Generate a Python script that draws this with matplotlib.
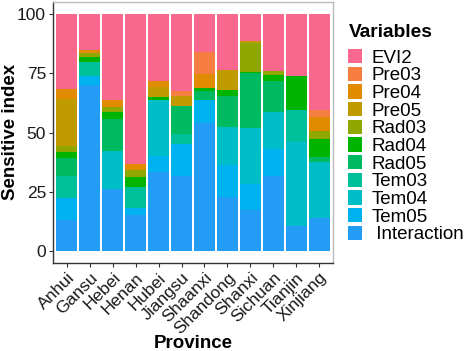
import numpy as np
import matplotlib.pyplot as plt
from matplotlib.patches import Patch

plt.rcParams['font.family'] = ['Liberation Sans', 'DejaVu Sans']

# ---- data (percent of sensitive index per province) ----
provinces = ["Anhui", "Gansu", "Hebei", "Henan", "Hubei", "Jiangsu", "Shaanxi",
             "Shandong", "Shanxi", "Sichuan", "Tianjin", "Xinjiang"]

interaction = [13.2, 70.2, 26.3, 15.3, 33.3, 31.6, 53.9, 22.8, 17.4, 31.5, 10.8, 14.0]
tem05 = [9.1, 3.8, 0.0, 2.8, 7.0, 13.6, 9.9, 13.3, 11.0, 11.6, 0.0, 0.0]
tem04 = [0.0, 0.0, 16.1, 0.0, 23.2, 0.0, 0.0, 16.4, 23.6, 15.5, 35.1, 23.5]
tem03 = [9.3, 5.6, 0.0, 9.1, 0.0, 4.0, 0.0, 0.0, 0.0, 0.0, 13.7, 0.0]
rad05 = [7.7, 0.0, 13.4, 0.0, 0.0, 11.8, 3.9, 12.7, 23.0, 13.0, 0.0, 2.1]
rad04 = [2.4, 2.1, 2.8, 4.0, 1.4, 0.0, 1.1, 2.8, 0.7, 2.8, 14.4, 7.7]
rad03 = [2.4, 1.7, 2.1, 3.1, 0.0, 0.0, 0.0, 0.0, 12.1, 1.7, 0.0, 3.5]
pre05 = [20.1, 0.0, 0.0, 0.0, 4.2, 4.2, 0.0, 8.4, 0.7, 0.0, 0.0, 0.0]
pre04 = [4.2, 1.4, 2.8, 2.5, 2.8, 0.0, 5.9, 0.0, 0.0, 0.0, 0.0, 5.7]
pre03 = [0.0, 0.0, 0.0, 0.0, 0.0, 2.2, 9.1, 0.0, 0.0, 0.0, 0.0, 2.8]
evi2 = [31.6, 15.2, 36.5, 63.2, 28.1, 32.6, 16.2, 23.6, 11.5, 23.9, 26.0, 40.7]

# stacking order, bottom -> top
series = [
    (" Interaction", interaction, "#229CF5"),
    ("Tem05", tem05, "#00B3F0"),
    ("Tem04", tem04, "#00BEC8"),
    ("Tem03", tem03, "#00C09C"),
    ("Rad05", rad05, "#00BA62"),
    ("Rad04", rad04, "#00B400"),
    ("Rad03", rad03, "#8FA700"),
    ("Pre05", pre05, "#BF9B00"),
    ("Pre04", pre04, "#E08B00"),
    ("Pre03", pre03, "#F57E40"),
    ("EVI2", evi2, "#F8678D"),
]

W, H = 474, 351
fig = plt.figure(figsize=(W / 100, H / 100), dpi=100)
ax = fig.add_axes([53 / W, 1 - 263 / H, 280 / W, 261 / H])

x = np.arange(len(provinces))
bottom = np.zeros(len(provinces))
for name, vals, col in series:
    vals = np.array(vals)
    ax.bar(x, vals, width=0.9, bottom=bottom, color=col, linewidth=0)
    bottom += vals

ax.set_xlim(-0.6, len(provinces) - 0.4)
ax.set_ylim(-5, 105)
ax.set_yticks([0, 25, 50, 75, 100])
ax.set_xticks(x)
ax.set_xticklabels(provinces, rotation=45, ha='right', rotation_mode='anchor')
ax.tick_params(axis='both', labelsize=12.5, colors='#333333', length=3, width=0.8,
               labelcolor='#1a1a1a', pad=2)

for s in ['left', 'bottom']:
    ax.spines[s].set_color('#333333')
    ax.spines[s].set_linewidth(1.0)
for s in ['top', 'right']:
    ax.spines[s].set_color('#BBBBBB')
    ax.spines[s].set_linewidth(1.0)

# axis titles
fig.text(11 / W, 1 - 132 / H, "Sensitive index", rotation=90, ha='center', va='center',
         fontsize=13.5, fontweight='bold')
fig.text(193 / W, 1 - 347.5 / H, "Province", ha='center', va='baseline',
         fontsize=13.5, fontweight='bold')

# legend title drawn separately so the gap to the keys matches
fig.text(349 / W, 1 - 32.5 / H, "Variables", ha='left', va='center',
         fontsize=13.8, fontweight='bold')

# legend, top entry first
handles = [Patch(facecolor=col, edgecolor='none', label=name) for name, vals, col in series[::-1]]
leg = fig.legend(handles=handles, loc='upper left', bbox_to_anchor=(346 / W, 1 - 47 / H),
                 frameon=False, fontsize=13.5,
                 handlelength=0.75, handleheight=0.8,
                 labelspacing=0.0, handletextpad=0.5, borderpad=0.1, borderaxespad=0)

fig.savefig("out.png", dpi=100)
